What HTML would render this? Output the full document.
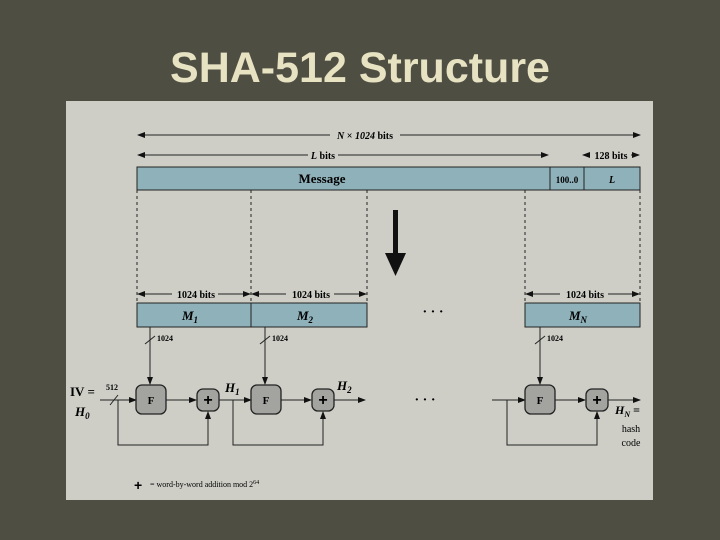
<!DOCTYPE html>
<html><head><style>
body{margin:0;width:720px;height:540px;background:#4e4e43;overflow:hidden;font-family:"Liberation Serif",serif}
.t{position:absolute;left:0;width:720px;top:44px;text-align:center;font:bold 43px "Liberation Sans",sans-serif;color:#e6e2c2}
svg{position:absolute;left:0;top:0}
</style></head><body>
<div class="t">SHA-512 Structure</div>
<svg width="720" height="540" viewBox="0 0 720 540" font-family="Liberation Serif,serif" font-weight="bold">
<defs><marker id="a" markerWidth="8" markerHeight="6" refX="7" refY="3" orient="auto-start-reverse" markerUnits="userSpaceOnUse"><path d="M0,0L8,3L0,6z" fill="#111"/></marker></defs>
<rect x="66" y="101" width="587" height="399" fill="#cecec7"/>
<g stroke="#222" stroke-width="1" fill="none">
<line x1="138" y1="135" x2="330" y2="135" marker-start="url(#a)"/>
<line x1="400" y1="135" x2="640" y2="135" marker-end="url(#a)"/>
<line x1="138" y1="155" x2="308" y2="155" marker-start="url(#a)"/>
<line x1="338" y1="155" x2="548" y2="155" marker-end="url(#a)"/>
<line x1="583" y1="155" x2="590" y2="155" marker-start="url(#a)"/>
<line x1="631" y1="155" x2="639" y2="155" marker-end="url(#a)"/>
</g>
<text x="365" y="139" font-size="10" text-anchor="middle"><tspan font-style="italic">N</tspan> × <tspan font-style="italic">1024</tspan> bits</text>
<text x="323" y="159" font-size="10" text-anchor="middle"><tspan font-style="italic">L</tspan> bits</text>
<text x="611" y="159" font-size="10" text-anchor="middle">128 bits</text>
<rect x="137" y="167" width="503" height="23" fill="#8fb1ba" stroke="#222"/>
<line x1="550" y1="167" x2="550" y2="190" stroke="#222"/>
<line x1="584" y1="167" x2="584" y2="190" stroke="#222"/>
<text x="322" y="183" font-size="13" text-anchor="middle">Message</text>
<text x="567" y="183" font-size="9" text-anchor="middle">100..0</text>
<text x="612" y="183" font-size="10" font-style="italic" text-anchor="middle">L</text>
<g stroke="#222" stroke-dasharray="3,3">
<line x1="137" y1="190" x2="137" y2="303"/><line x1="251" y1="190" x2="251" y2="303"/>
<line x1="367" y1="190" x2="367" y2="303"/><line x1="525" y1="190" x2="525" y2="303"/>
<line x1="640" y1="190" x2="640" y2="303"/></g>
<rect x="393" y="210" width="5" height="45" fill="#111"/><path d="M385,253L406,253L395.5,276z" fill="#111"/>
<g stroke="#222" fill="none">
<line x1="138" y1="294" x2="172" y2="294" marker-start="url(#a)"/><line x1="218" y1="294" x2="250" y2="294" marker-end="url(#a)"/>
<line x1="252" y1="294" x2="286" y2="294" marker-start="url(#a)"/><line x1="334" y1="294" x2="366" y2="294" marker-end="url(#a)"/>
<line x1="526" y1="294" x2="560" y2="294" marker-start="url(#a)"/><line x1="608" y1="294" x2="639" y2="294" marker-end="url(#a)"/>
</g>
<g font-size="10" text-anchor="middle"><text x="196" y="298">1024  bits</text><text x="311" y="298">1024  bits</text><text x="585" y="298">1024  bits</text></g>
<g fill="#8fb1ba" stroke="#222"><rect x="137" y="303" width="114" height="24"/><rect x="251" y="303" width="116" height="24"/><rect x="525" y="303" width="115" height="24"/></g>
<g font-size="13" font-style="italic" text-anchor="middle"><text x="190" y="320">M<tspan font-size="9" dy="3">1</tspan></text><text x="305" y="320">M<tspan font-size="9" dy="3">2</tspan></text><text x="578" y="320">M<tspan font-size="9" dy="3">N</tspan></text></g>
<text x="433" y="316" font-size="14" text-anchor="middle">· · ·</text>
<text x="425" y="404" font-size="14" text-anchor="middle">· · ·</text>
<g stroke="#222" fill="none">
<line x1="150" y1="327" x2="150" y2="384" marker-end="url(#a)"/><line x1="145" y1="344" x2="155" y2="336"/>
<line x1="265" y1="327" x2="265" y2="384" marker-end="url(#a)"/><line x1="260" y1="344" x2="270" y2="336"/>
<line x1="540" y1="327" x2="540" y2="384" marker-end="url(#a)"/><line x1="535" y1="344" x2="545" y2="336"/>
<line x1="100" y1="400" x2="136" y2="400" marker-end="url(#a)"/><line x1="110" y1="405" x2="118" y2="395"/>
<line x1="166" y1="400" x2="196" y2="400" marker-end="url(#a)"/>
<line x1="219" y1="400" x2="251" y2="400" marker-end="url(#a)"/>
<line x1="281" y1="400" x2="311" y2="400" marker-end="url(#a)"/>
<line x1="334" y1="400" x2="365" y2="400" marker-end="url(#a)"/>
<line x1="492" y1="400" x2="525" y2="400" marker-end="url(#a)"/>
<line x1="555" y1="400" x2="585" y2="400" marker-end="url(#a)"/>
<line x1="608" y1="400" x2="640" y2="400" marker-end="url(#a)"/>
<path d="M118,400V445H208V412" marker-end="url(#a)"/>
<path d="M233,400V445H323V412" marker-end="url(#a)"/>
<path d="M507,400V445H597V412" marker-end="url(#a)"/>
</g>
<g fill="#a3a3a0" stroke="#222" stroke-width="1.3">
<rect x="136" y="385" width="30" height="29" rx="6"/><rect x="251" y="385" width="30" height="29" rx="6"/><rect x="525" y="385" width="30" height="29" rx="6"/>
<rect x="197" y="389" width="22" height="22" rx="6"/><rect x="312" y="389" width="22" height="22" rx="6"/><rect x="586" y="389" width="22" height="22" rx="6"/>
</g>
<g font-size="11" text-anchor="middle"><text x="151" y="404">F</text><text x="266" y="404">F</text><text x="540" y="404">F</text></g>
<g font-size="16" text-anchor="middle" font-family="Liberation Sans,sans-serif"><text x="208" y="405">+</text><text x="323" y="405">+</text><text x="597" y="405">+</text></g>
<text x="70" y="396" font-size="13">IV =</text>
<text x="75" y="416" font-size="13" font-style="italic">H<tspan font-size="9" dy="3">0</tspan></text>
<text x="106" y="390" font-size="8">512</text>
<g font-size="8"><text x="157" y="341">1024</text><text x="272" y="341">1024</text><text x="547" y="341">1024</text></g>
<text x="225" y="392" font-size="13" font-style="italic">H<tspan font-size="9" dy="3">1</tspan></text>
<text x="337" y="390" font-size="13" font-style="italic">H<tspan font-size="9" dy="3">2</tspan></text>
<text x="615" y="414" font-size="12" font-style="italic">H<tspan font-size="8" dy="3">N</tspan><tspan font-style="normal" dy="-3"> =</tspan></text>
<text x="631" y="432" font-size="10" text-anchor="middle" font-weight="normal">hash</text>
<text x="631" y="446" font-size="10" text-anchor="middle" font-weight="normal">code</text>
<text x="134" y="490" font-size="14" font-family="Liberation Sans,sans-serif">+</text>
<text x="150" y="487" font-size="8" font-weight="normal">= word-by-word addition mod 2<tspan font-size="6" dy="-3">64</tspan></text>
</svg>
</body></html>
